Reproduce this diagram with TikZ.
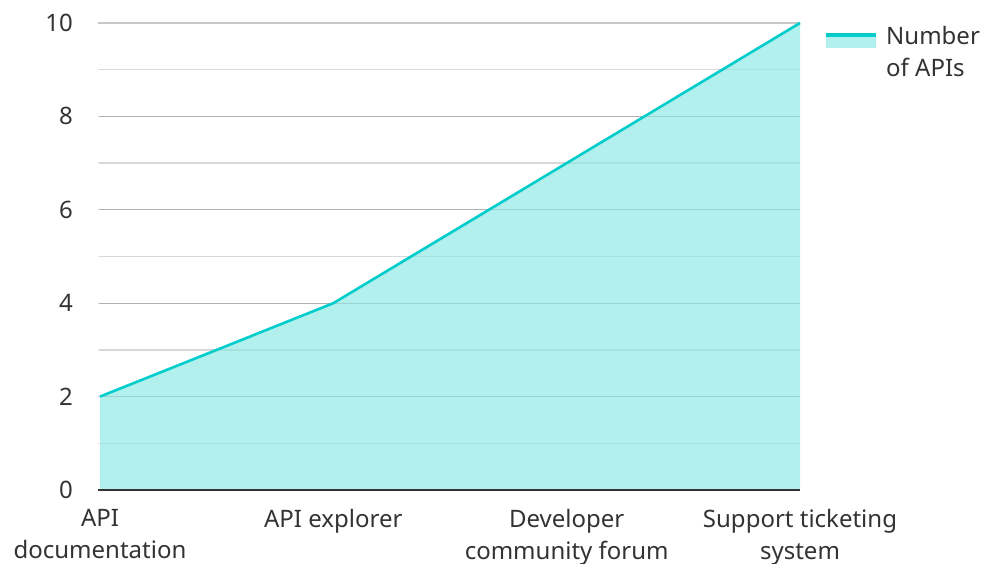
\documentclass[tikz,border=0pt]{standalone}
\usepackage{fontspec}
\setmainfont{Noto Sans}
\definecolor{txt}{HTML}{333333}
\definecolor{major}{HTML}{C8C8C8}
\definecolor{minor}{HTML}{E6E6E6}
\definecolor{areafill}{HTML}{B2F0EE}
\definecolor{arealine}{HTML}{00CCCC}
\begin{document}
\begin{tikzpicture}[x=1bp,y=-1bp,
  lbl/.style={font=\fontsize{24bp}{32bp}\selectfont, text=txt, inner sep=0pt},
  ytick/.style={lbl, anchor=east},
  xtick/.style={lbl, align=center, anchor=north},
  majorgrid/.style={draw=major, line width=1.2bp},
  minorgrid/.style={draw=minor, line width=1.2bp}]
\useasboundingbox (0,0) rectangle (985,564);
% grid
\foreach \v in {1,3,5,7,9} \draw[minorgrid] (98,{490-46.7*\v}) -- (800,{490-46.7*\v});
\foreach \v in {2,4,6,8,10} \draw[majorgrid] (98,{490-46.7*\v}) -- (800,{490-46.7*\v});
% area
\coordinate (p1) at (100,{490-46.7*2});
\coordinate (p2) at (333.3,{490-46.7*4});
\coordinate (p3) at (566.7,{490-46.7*7});
\coordinate (p4) at (800,{490-46.7*10});
\coordinate (b1) at (100,490);
\coordinate (b4) at (800,490);
\fill[areafill] (b1) -- (p1) -- (p2) -- (p3) -- (p4) -- (b4) -- cycle;
\foreach \v in {1,3,5,7,9} \draw[minorgrid, draw=black, opacity=0.06] (100,{490-46.7*\v}) -- (800,{490-46.7*\v});
\foreach \v in {2,4,6,8} \draw[majorgrid, draw=black, opacity=0.12] (100,{490-46.7*\v}) -- (800,{490-46.7*\v});
\draw[arealine, line width=2.6bp, line join=round] (p1) -- (p2) -- (p3) -- (p4);
% axis
\draw[draw=txt, line width=2bp] (98,490) -- (800,490);
% y labels
\foreach \v in {0,2,4,6,8,10} \node[ytick] (y\v) at (73,{490-46.7*\v}) {\v};
% x labels
\node[xtick] (x1) at (100,509.5) {API\\documentation};
\node[xtick] (x2) at (333.3,509.5) {API explorer};
\node[xtick] (x3) at (566.7,509.5) {Developer\\community forum};
\node[xtick] (x4) at (800,509.5) {Support ticketing\\system};
% legend
\fill[areafill] (826,35) rectangle (876,48);
\draw[arealine, line width=3.5bp] (826,35) -- (876,35);
\node[lbl, anchor=north west, align=left] (leg) at (886,26) {Number\\of APIs};
\end{tikzpicture}
\end{document}
